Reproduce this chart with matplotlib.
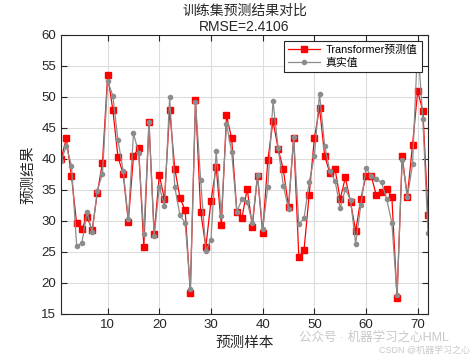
import numpy as np
import matplotlib.pyplot as plt

plt.rcParams['font.family'] = ['Liberation Sans', 'Noto Sans CJK SC', 'DejaVu Sans']

# === Data ===
sample_idx = np.arange(1, 73)
pred_vals = [40.0, 43.3, 37.2, 29.6, 28.7, 30.7, 28.5, 34.5, 39.4, 53.5,
             47.9, 40.3, 37.6, 29.9, 40.5, 41.7, 25.8, 45.9, 27.9, 37.4,
             33.5, 47.8, 38.4, 33.7, 31.7, 18.4, 49.5, 31.5, 25.8, 33.2,
             38.7, 29.3, 47.0, 43.3, 31.5, 30.5, 35.2, 29.1, 37.3, 28.0,
             39.8, 46.1, 41.6, 38.3, 32.3, 43.4, 24.2, 25.3, 34.2, 43.3,
             48.2, 40.5, 37.7, 38.4, 33.5, 37.0, 33.0, 28.4, 33.6, 37.3,
             37.3, 34.1, 34.7, 35.1, 33.9, 17.6, 40.4, 33.9, 42.3, 50.9,
             47.7, 31.0]
true_vals = [39.6, 42.1, 38.9, 26.0, 26.4, 31.4, 28.2, 34.9, 37.6, 52.5,
             50.2, 43.0, 38.1, 30.3, 44.1, 41.0, 27.9, 45.9, 27.6, 35.5,
             32.4, 50.0, 35.4, 30.9, 29.7, 19.1, 49.2, 36.6, 25.2, 27.0,
             41.2, 30.8, 45.7, 41.1, 31.5, 33.5, 33.1, 29.7, 37.4, 28.7,
             35.5, 49.3, 41.7, 35.7, 31.9, 43.5, 29.5, 30.4, 36.2, 40.4,
             50.5, 42.1, 38.0, 36.5, 32.1, 35.1, 33.4, 26.3, 32.6, 38.5,
             37.3, 36.7, 36.2, 33.5, 29.7, 18.1, 39.9, 33.8, 39.1, 58.5,
             46.4, 28.0]
rmse_text = 'RMSE=2.4106'

# === Plot ===
fig = plt.figure(figsize=(4.74, 3.55), dpi=100)
ax = fig.add_axes([0.129, 0.1155, 0.774, 0.7865])

ax.plot(sample_idx, pred_vals, color='red', lw=0.9, marker='s', ms=3.8,
        mfc='red', mec='red', label='Transformer预测值')
ax.plot(sample_idx, true_vals, color='#8c8c8c', lw=0.9, marker='o', ms=3.0,
        mfc='#8c8c8c', mec='#8c8c8c', label='真实值')

ax.set_xlim(1, 72)
ax.set_ylim(15, 60)
ax.set_xticks(range(10, 71, 10))
ax.set_yticks(range(15, 61, 5))
ax.grid(True, color='#dcdcdc', lw=0.8)
ax.set_axisbelow(True)
ax.tick_params(direction='in', top=True, right=True, labelsize=9.5,
               colors='#262626', length=4)
for s in ax.spines.values():
    s.set_color('#262626')
    s.set_linewidth(0.8)

ax.set_title('训练集预测结果对比\n' + rmse_text, fontsize=10, color='#262626',
             linespacing=1.15, pad=3)
ax.set_xlabel('预测样本', fontsize=10.5, color='#262626', labelpad=4)
ax.set_ylabel('预测结果', fontsize=10.5, color='#262626', labelpad=4)

leg = ax.legend(loc='upper right', fontsize=7.8, fancybox=False,
                edgecolor='#262626', framealpha=1, borderpad=0.35,
                handlelength=3.0, handletextpad=0.5, labelspacing=0.25,
                borderaxespad=0.6)
leg.get_frame().set_linewidth(0.8)

# watermark
fig.text(0.63, 0.04, '公众号 · 机器学习之心HML', fontsize=9, color='#bbbbbb', alpha=0.8)
fig.text(0.80, 0.006, 'CSDN @机器学习之心', fontsize=6.5, color='#bbbbbb', alpha=0.8)

fig.savefig('out.png', dpi=100)
